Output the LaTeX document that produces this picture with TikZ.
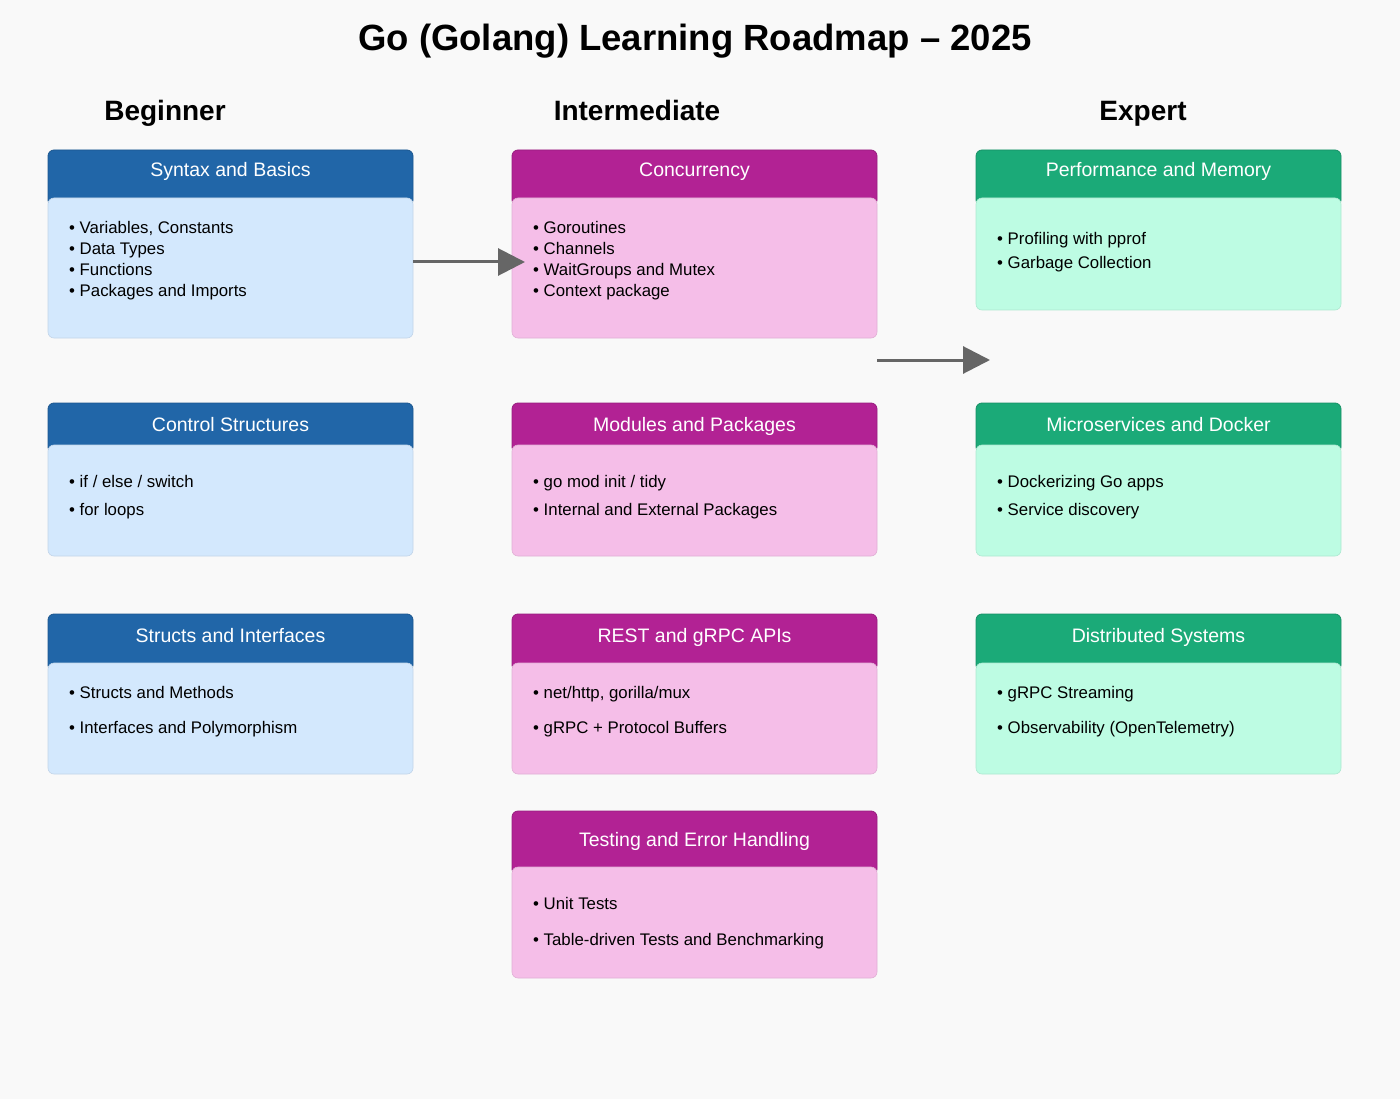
\documentclass[tikz,border=0pt]{standalone}
\usepackage{fontspec}
\setmainfont{Liberation Sans}
\usetikzlibrary{arrows.meta}
\definecolor{bg}{HTML}{F9F9F9}
\definecolor{bhd}{HTML}{2166A8}
\definecolor{bbd}{HTML}{D3E8FD}
\definecolor{phd}{HTML}{B22294}
\definecolor{pbd}{HTML}{F5BEE8}
\definecolor{ghd}{HTML}{1BAA78}
\definecolor{gbd}{HTML}{BDFCE3}
\definecolor{arrc}{HTML}{666666}
\tikzset{
  hdrbox/.style={rounded corners=6pt, line width=0.8pt},
  bodybox/.style={rounded corners=6pt, line width=0.6pt},
  hdrtext/.style={anchor=base, text=white, font=\fontsize{19.5}{22}\selectfont, inner sep=0pt},
  bul/.style={anchor=base west, font=\fontsize{16.8}{19}\selectfont, inner sep=0pt},
  coltitle/.style={anchor=base, font=\bfseries\fontsize{28}{32}\selectfont, inner sep=0pt},
  arr/.style={draw=arrc, line width=3pt, -{Triangle[length=27pt,width=27pt]}},
}
% \mycard{name}{x}{top}{hdrbottom}{bottom}{hdrcolor}{bodycolor}{title}{title baseline}
\newcommand{\mycard}[9]{%
  \path[hdrbox, fill=#6, draw=#6!85!black] (#2,#3) rectangle (#2+365,#4+8);
  \path[bodybox, fill=#7, draw=#7!92!black] (#2,#4) rectangle (#2+365,#5);
  \coordinate (#1-nw) at (#2,#3);
  \coordinate (#1-se) at (#2+365,#5);
  \node[hdrtext] (#1-t) at (#2+182.5,#9) {#8};
}
\begin{document}
\begin{tikzpicture}[x=1pt,y=-1pt]
\useasboundingbox[fill=bg] (0,0) rectangle (1400,1099);

\node[anchor=base, font=\bfseries\fontsize{36.5}{40}\selectfont, inner sep=0pt] (title) at (695,51) {Go (Golang) Learning Roadmap – 2025};
\node[coltitle] (colB) at (165,121) {Beginner};
\node[coltitle] (colI) at (637,121) {Intermediate};
\node[coltitle] (colE) at (1143,121) {Expert};

% Beginner
\mycard{c11}{48}{150}{198}{338}{bhd}{bbd}{Syntax and Basics}{177}
\node[bul] (c11a) at (69,234) {• Variables, Constants};
\node[bul] (c11b) at (69,255) {• Data Types};
\node[bul] (c11c) at (69,276) {• Functions};
\node[bul] (c11d) at (69,297) {• Packages and Imports};

\mycard{c12}{48}{403}{445}{556}{bhd}{bbd}{Control Structures}{431}
\node[bul] (c12a) at (69,487) {• if / else / switch};
\node[bul] (c12b) at (69,515) {• for loops};

\mycard{c13}{48}{614}{663}{774}{bhd}{bbd}{Structs and Interfaces}{642}
\node[bul] (c13a) at (69,698) {• Structs and Methods};
\node[bul] (c13b) at (69,733) {• Interfaces and Polymorphism};

% Intermediate
\mycard{c21}{512}{150}{198}{338}{phd}{pbd}{Concurrency}{177}
\node[bul] (c21a) at (533,234) {• Goroutines};
\node[bul] (c21b) at (533,255) {• Channels};
\node[bul] (c21c) at (533,276) {• WaitGroups and Mutex};
\node[bul] (c21d) at (533,297) {• Context package};

\mycard{c22}{512}{403}{445}{556}{phd}{pbd}{Modules and Packages}{431}
\node[bul] (c22a) at (533,487) {• go mod init / tidy};
\node[bul] (c22b) at (533,515) {• Internal and External Packages};

\mycard{c23}{512}{614}{663}{774}{phd}{pbd}{REST and gRPC APIs}{642}
\node[bul] (c23a) at (533,698) {• net/http, gorilla/mux};
\node[bul] (c23b) at (533,733) {• gRPC + Protocol Buffers};

\mycard{c24}{512}{811}{867}{978}{phd}{pbd}{Testing and Error Handling}{846}
\node[bul] (c24a) at (533,909) {• Unit Tests};
\node[bul] (c24b) at (533,945) {• Table-driven Tests and Benchmarking};

% Expert
\mycard{c31}{976}{150}{198}{310}{ghd}{gbd}{Performance and Memory}{177}
\node[bul] (c31a) at (997,245) {• Profiling with pprof};
\node[bul] (c31b) at (997,269) {• Garbage Collection};

\mycard{c32}{976}{403}{445}{556}{ghd}{gbd}{Microservices and Docker}{431}
\node[bul] (c32a) at (997,487) {• Dockerizing Go apps};
\node[bul] (c32b) at (997,515) {• Service discovery};

\mycard{c33}{976}{614}{663}{774}{ghd}{gbd}{Distributed Systems}{642}
\node[bul] (c33a) at (997,698) {• gRPC Streaming};
\node[bul] (c33b) at (997,733) {• Observability (OpenTelemetry)};

% arrows
\coordinate (a1s) at (413,262);
\coordinate (a1e) at (525,262);
\coordinate (a2s) at (877,360);
\coordinate (a2e) at (990,360);
\draw[arr] (a1s) -- (a1e);
\draw[arr] (a2s) -- (a2e);
\end{tikzpicture}
\end{document}
